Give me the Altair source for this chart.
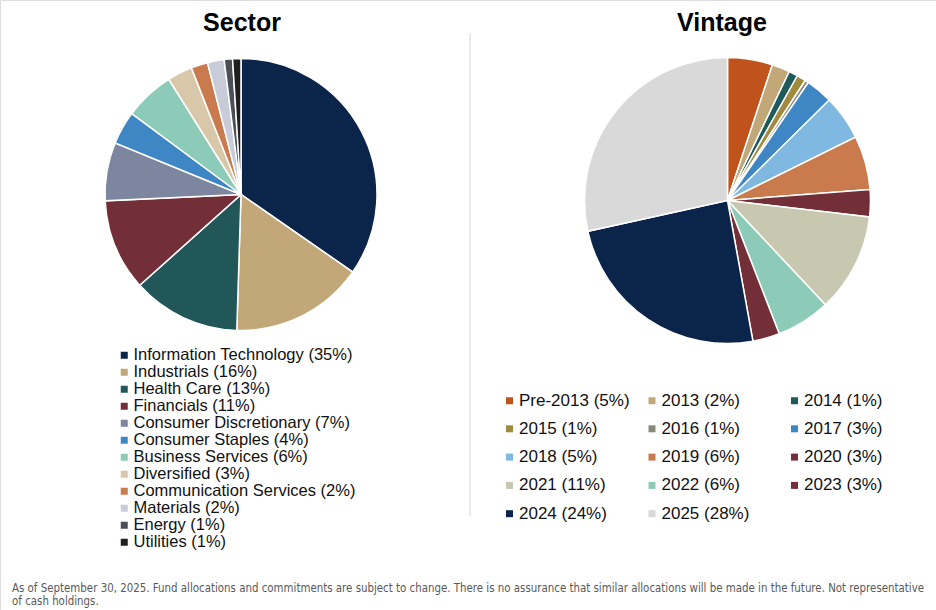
import altair as alt
import pandas as pd

sector_names = ["Information Technology", "Industrials", "Health Care", "Financials",
                "Consumer Discretionary", "Consumer Staples", "Business Services",
                "Diversified", "Communication Services", "Materials", "Energy", "Utilities"]
sector_values = [35, 16, 13, 11, 7, 4, 6, 3, 2, 2, 1, 1]
sector_colors = ["#0b2449", "#c2a878", "#22575a", "#722f37", "#7c869f", "#3f86c4",
                 "#8ccbb7", "#d8c7a8", "#c97b4e", "#c8ccd8", "#4a4f58", "#1f1f1f"]

vintage_names = ["Pre-2013", "2013", "2014", "2015", "2016", "2017", "2018", "2019",
                 "2020", "2021", "2022", "2023", "2024", "2025"]
vintage_values = [5, 2, 1, 1, 0.4, 3, 5, 6, 3, 11, 6, 3, 24, 28]
vintage_pct = [5, 2, 1, 1, 1, 3, 5, 6, 3, 11, 6, 3, 24, 28]
vintage_colors = ["#c0531c", "#c2a878", "#1e5a5a", "#a08a3c", "#8a8a7a", "#3f86c4",
                  "#7fb8e0", "#c97b4e", "#722f37", "#c8c7b0", "#8ccbb7", "#722f37",
                  "#0b2449", "#d9d9d9"]

titles = ["Sector", "Vintage"]
footnote = ["As of September 30, 2025. Fund allocations and commitments are subject to change. There is no assurance that similar allocations will be made in the future. Not representative",
            "of cash holdings."]

FONT = "Liberation Sans"

sector_df = pd.DataFrame({
    "label": [f"{n} ({v}%)" for n, v in zip(sector_names, sector_values)],
    "value": sector_values,
    "order": list(range(len(sector_names))),
})
sector_labels = list(sector_df["label"])

vintage_df = pd.DataFrame({
    "label": [f"{n} ({p}%)" for n, p in zip(vintage_names, vintage_pct)],
    "value": vintage_values,
    "order": list(range(len(vintage_names))),
})
vintage_labels = list(vintage_df["label"])

legend_common = dict(
    orient="none", title=None, symbolType="square", symbolSize=49,
    symbolStrokeWidth=0, labelFont=FONT, labelColor="#111111",
    labelOffset=1, labelLimit=400,
)

sector_pie = alt.Chart(sector_df).mark_arc(outerRadius=136, stroke="white", strokeWidth=1.5).encode(
    theta=alt.Theta("value:Q", stack=True),
    order=alt.Order("order:Q"),
    color=alt.Color("label:N", sort=sector_labels,
                    scale=alt.Scale(domain=sector_labels, range=sector_colors),
                    legend=alt.Legend(legendX=116, legendY=347, rowPadding=-0.5, labelFontSize=16.5,
                                      **legend_common)),
    x=alt.value(241), y=alt.value(194.5),
)

vintage_pie = alt.Chart(vintage_df).mark_arc(outerRadius=143, stroke="white", strokeWidth=1.5).encode(
    theta=alt.Theta("value:Q", stack=True),
    order=alt.Order("order:Q"),
    color=alt.Color("label:N", sort=vintage_labels,
                    scale=alt.Scale(domain=vintage_labels, range=vintage_colors),
                    legend=alt.Legend(legendX=501, legendY=392, rowPadding=10.3, columns=3,
                                      direction="horizontal", labelFontSize=17,
                                      columnPadding=13.5, gridAlign="all", **legend_common)),
    x=alt.value(727.5), y=alt.value(200.5),
)

title_df = pd.DataFrame({"t": titles, "cx": [242, 722]})
title_text = alt.Chart(title_df).mark_text(font=FONT, fontSize=25, fontWeight="bold",
                                            color="#000000", baseline="alphabetic").encode(
    text="t:N",
    x=alt.X("cx:Q", scale=alt.Scale(domain=[0, 936], range=[0, 936]), axis=None),
    y=alt.value(31),
)

divider = alt.Chart(pd.DataFrame({"a": [0]})).mark_rule(color="#d4d4d4", strokeWidth=1).encode(
    x=alt.value(470), y=alt.value(33), y2=alt.value(516),
)

foot_df = pd.DataFrame({"t": ["\n".join(footnote)]})
foot = alt.Chart(foot_df).mark_text(font="DejaVu Sans Condensed", fontSize=11.4, color="#595959",
                                    align="left", baseline="alphabetic", lineBreak="\n",
                                    lineHeight=13).encode(
    text="t:N", x=alt.value(12), y=alt.value(592),
)

chart = alt.layer(sector_pie, vintage_pie, title_text, divider, foot).resolve_scale(
    color="independent", theta="independent", x="independent"
).properties(
    width=936, height=610, padding=0,
    autosize=alt.AutoSizeParams(type="none"),
).configure_view(stroke=None).configure(background="white")

chart.save("out.html", embed_options={"renderer": "svg", "actions": False})
